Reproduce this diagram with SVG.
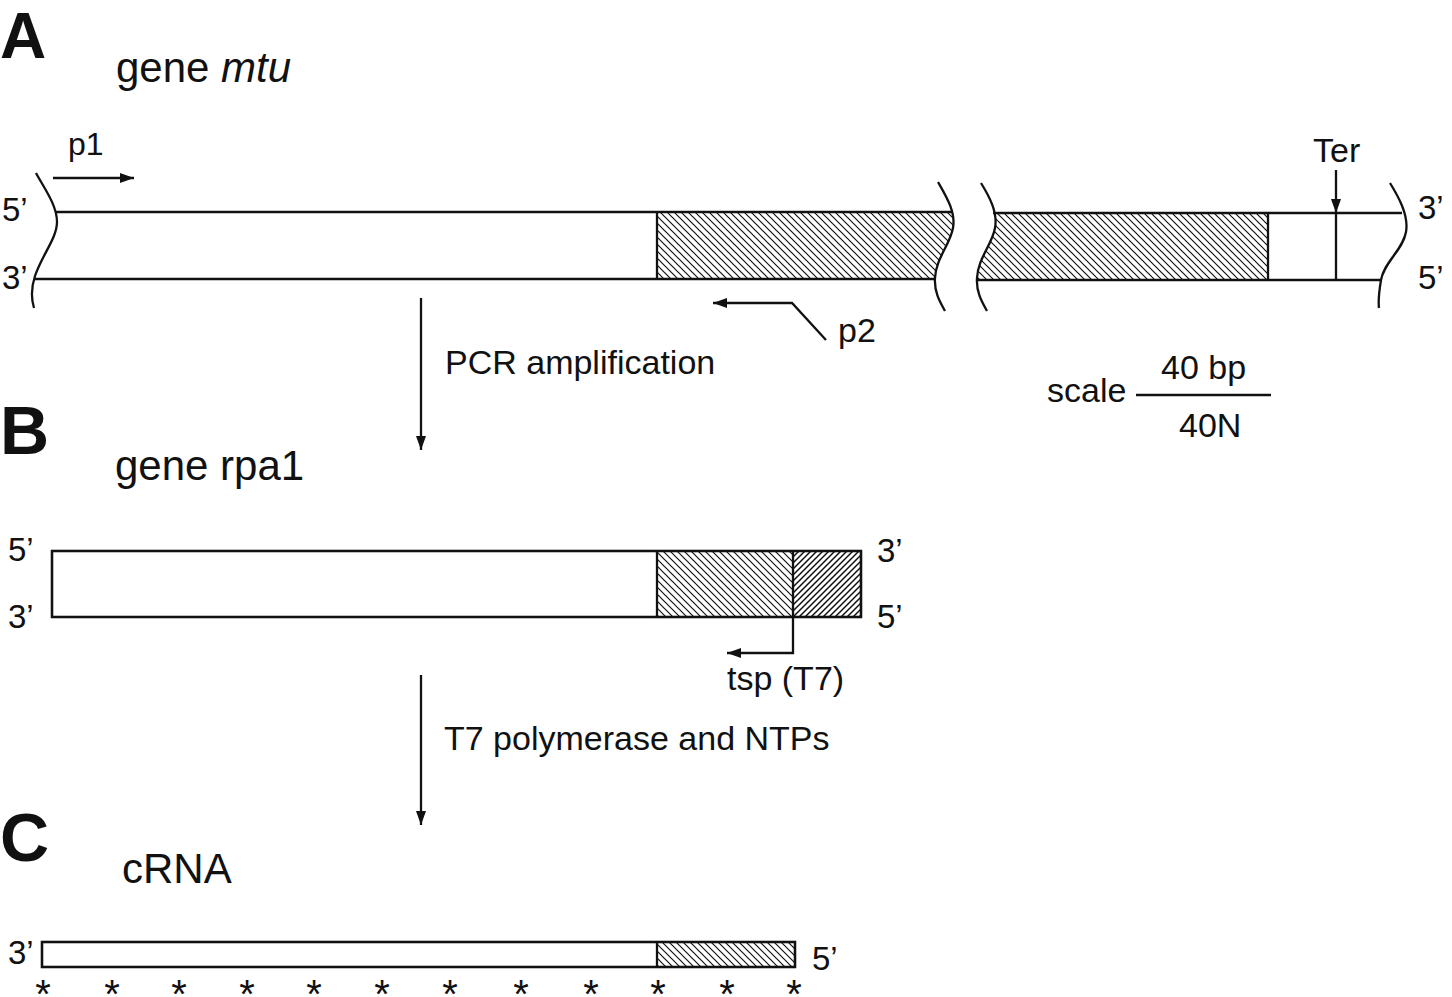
<svg xmlns="http://www.w3.org/2000/svg" width="1452" height="997" viewBox="0 0 1452 997">
<style>
.t{font-family:"Liberation Sans",Arial,sans-serif;fill:#111;}
.lab{font-size:34px;}
.end{font-size:33px;}
.head{font-size:42px;}
.big{font-size:68px;font-weight:bold;}
.ln{stroke:#111;stroke-width:2.3;fill:none;}
.box{stroke:#111;stroke-width:2.3;fill:#fff;}
.ast{font-size:40px;text-anchor:middle;}
</style>
<defs>
<pattern id="hb" patternUnits="userSpaceOnUse" width="7" height="7">
<path d="M0,0 L7,7 M-1,6 L1,8 M6,-1 L8,1" stroke="#111" stroke-width="1.2"/>
</pattern>
<pattern id="hf" patternUnits="userSpaceOnUse" width="6" height="6">
<path d="M0,6 L6,0 M-1,1 L1,-1 M5,7 L7,5" stroke="#111" stroke-width="1.5"/>
</pattern>
<marker id="ah" viewBox="0 0 14 10" refX="14" refY="5" markerWidth="14" markerHeight="10" orient="auto" markerUnits="userSpaceOnUse">
<path d="M0,0 L14,5 L0,10 Z" fill="#111"/>
</marker>
</defs>
<rect width="1452" height="997" fill="#fff"/>

<g id="panelA">
<text class="t big" x="0" y="58" style="font-size:64px">A</text>
<text class="t head" x="116" y="82">gene <tspan font-style="italic">mtu</tspan></text>
<text class="t lab" x="68" y="155" style="font-size:32px">p1</text>
<text class="t lab" x="1313" y="162">Ter</text>
<text class="t end" x="2" y="221">5’</text>
<text class="t end" x="2" y="289">3’</text>
<text class="t end" x="1418" y="219">3’</text>
<text class="t end" x="1418" y="289">5’</text>
<text class="t lab" x="838" y="342">p2</text>
<path d="M657,212 L951,212 C954,218 955,223 953,228 C950,245 936,258 935,279 L657,279 Z" fill="url(#hb)"/>
<path d="M993,212 L1268,212 L1268,279 L977,279 C978,260 992,245 995,228 C996,222 996,217 993,212 Z" fill="url(#hb)"/>
<line class="ln" x1="55" y1="212" x2="952" y2="212"/>
<line class="ln" x1="35" y1="279" x2="935" y2="279"/>
<line class="ln" x1="993" y1="213" x2="1402" y2="213"/>
<line class="ln" x1="977" y1="280" x2="1382" y2="280"/>
<line class="ln" x1="657" y1="212" x2="657" y2="279"/>
<line class="ln" x1="1268" y1="213" x2="1268" y2="280"/>
<line class="ln" x1="1336" y1="213" x2="1336" y2="280"/>
<path class="ln" stroke-width="1.8" d="M36,173 C44,188 57,205 57,222 C57,238 42,255 35,276 C31,288 31,298 34,308"/>
<path class="ln" stroke-width="1.8" d="M938,182 C946,196 956,212 953,228 C950,245 936,258 935,278 C934,292 940,302 945,311"/>
<path class="ln" stroke-width="1.8" d="M981,183 C989,196 998,212 995,228 C992,245 978,258 977,278 C976,292 982,302 987,311"/>
<path class="ln" stroke-width="1.8" d="M1390,183 C1398,196 1409,215 1406,232 C1403,250 1384,262 1381,280 C1379,292 1378,300 1379,308"/>
</g>

<g id="scale">
<text class="t lab" x="1047" y="402">scale</text>
<line class="ln" x1="1136" y1="395" x2="1271" y2="395"/>
<text class="t lab" x="1161" y="379">40 bp</text>
<text class="t lab" x="1179" y="437">40N</text>
</g>

<g id="panelB">
<text class="t big" x="0" y="454">B</text>
<text class="t head" x="115" y="480">gene rpa1</text>
<text class="t end" x="8" y="561">5’</text>
<text class="t end" x="8" y="628">3’</text>
<text class="t end" x="877" y="562">3’</text>
<text class="t end" x="877" y="628">5’</text>
<rect class="box" x="52" y="551" width="809" height="66"/>
<rect x="657" y="551" width="136" height="66" fill="url(#hb)"/>
<rect x="793" y="551" width="68" height="66" fill="url(#hf)"/>
<rect class="ln" x="52" y="551" width="809" height="66"/>
<line class="ln" x1="657" y1="551" x2="657" y2="617"/>
<line class="ln" x1="793" y1="551" x2="793" y2="617"/>
<text class="t lab" x="727" y="690">tsp (T7)</text>
</g>

<g id="panelC">
<text class="t big" x="0" y="861">C</text>
<text class="t head" x="122" y="883">cRNA</text>
<text class="t end" x="8" y="964">3’</text>
<text class="t end" x="812" y="970">5’</text>
<rect class="box" x="42" y="942" width="753" height="25"/>
<rect x="657" y="942" width="138" height="25" fill="url(#hb)"/>
<rect class="ln" x="42" y="942" width="753" height="25"/>
<line class="ln" x1="657" y1="942" x2="657" y2="967"/>
<g id="asterisks" class="t ast">
<text x="43" y="1008">*</text>
<text x="112" y="1008">*</text>
<text x="179" y="1008">*</text>
<text x="247" y="1008">*</text>
<text x="314" y="1008">*</text>
<text x="382" y="1008">*</text>
<text x="450" y="1008">*</text>
<text x="521" y="1008">*</text>
<text x="591" y="1008">*</text>
<text x="658" y="1008">*</text>
<text x="727" y="1008">*</text>
<text x="794" y="1008">*</text>
</g>
</g>

<g id="connectors" class="ln">
<line x1="53" y1="178" x2="134" y2="178" marker-end="url(#ah)"/>
<polyline points="826,340 792,303 713,303" marker-end="url(#ah)"/>
<line x1="1336" y1="170" x2="1336" y2="213" marker-end="url(#ah)"/>
<line x1="421" y1="298" x2="421" y2="450" marker-end="url(#ah)"/>
<polyline points="793,617 793,653 727,653" marker-end="url(#ah)"/>
<line x1="421" y1="675" x2="421" y2="825" marker-end="url(#ah)"/>
</g>
<g id="processLabels">
<text class="t lab" x="445" y="374">PCR amplification</text>
<text class="t lab" x="444" y="750">T7 polymerase and NTPs</text>
</g>
</svg>
